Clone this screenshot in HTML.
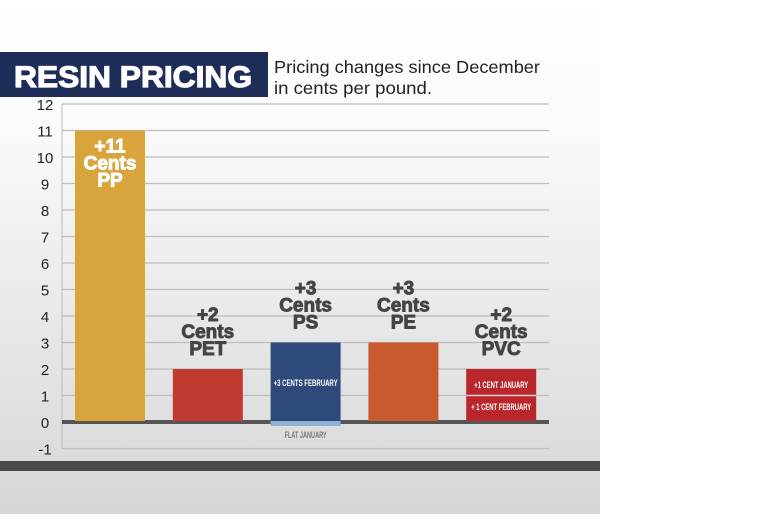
<!DOCTYPE html>
<html><head><meta charset="utf-8"><style>
body{margin:0;width:766px;height:514px;overflow:hidden;background:#fff;font-family:"Liberation Sans",sans-serif}
</style></head><body>
<svg width="766" height="514">
<defs><linearGradient id="bg" x1="0" y1="0" x2="0" y2="1"><stop offset="0" stop-color="#fff"/><stop offset="0.25" stop-color="#fafafa"/><stop offset="1" stop-color="#d6d6d6"/></linearGradient></defs>
<rect x="0" y="0" width="600" height="514" fill="url(#bg)"/>
<rect x="0" y="52" width="268" height="45" fill="#1e2d58"/>
<text x="14" y="87" font-size="30" font-weight="bold" fill="#fff" stroke="#fff" stroke-width="1.2" textLength="238" lengthAdjust="spacingAndGlyphs">RESIN PRICING</text>
<text x="274" y="73" font-size="17.5" fill="#222" textLength="266" lengthAdjust="spacingAndGlyphs">Pricing changes since December</text>
<text x="274" y="94" font-size="17.5" fill="#222" textLength="158" lengthAdjust="spacingAndGlyphs">in cents per pound.</text>
<g id="grid"></g>
<g id="bars"></g>
<rect x="0" y="461" width="600" height="10" fill="#4a4a4a"/>
</svg>
<script>
const ticks=[-1,0,1,2,3,4,5,6,7,8,9,10,11,12];
const categories=["PP","PET","PS","PE","PVC"];
const values=[11,2,3,3,2];
const labels=["+11","+2","+3","+3","+2"];
const colors=["#d9a43c","#c0392f","#2d4a7a","#c95a30","#b9262b"];
const NS="http://www.w3.org/2000/svg";
function y(v){return 422-26.5*v;}
function x(i){return 75+i*97.8;}
const BW=70;
function el(t,a,p,txt){const e=document.createElementNS(NS,t);for(const k in a)e.setAttribute(k,a[k]);if(txt!=null)e.textContent=txt;p.appendChild(e);return e;}
const g=document.getElementById('grid'),b=document.getElementById('bars');
el('line',{x1:62,y1:y(12),x2:62,y2:y(-1),stroke:'#bbb'},g);
ticks.forEach(t=>{
 const l=el('line',{x1:62,x2:549,y1:y(t),y2:y(t),stroke:'#bdbdbd','stroke-width':1.2},g);
 
 
 const tx=el('text',{x:45,y:y(t)+6,'font-size':15,fill:'#222','text-anchor':'middle'},g,String(t));
 
 
});
const z=el('rect',{x:62,y:y(0)-2,width:487,height:4,fill:'#555'},g);


categories.forEach((c,i)=>{
 const r=el('rect',{x:x(i),y:y(values[i]),width:BW,height:y(0)-y(values[i])-1,fill:colors[i]},b);
 
 
 const cx=x(i)+BW/2;
 const inside=i===0;
 const top=inside?y(values[i])+22:y(values[i])-48;
 const col=inside?'#fff':'#444';
 [labels[i],"Cents",c].forEach((s,k)=>{
  const t=el('text',{x:cx,y:top+k*17,'font-size':19,'font-weight':'bold',fill:col,stroke:col,'stroke-width':0.9,'text-anchor':'middle'},b,s);
  
  
 });
});
let s=el('rect',{x:x(2),y:y(0)-1,width:BW,height:5,fill:'#8fb0d8'},b);


let t=el('text',{x:x(2)+BW/2,y:386,'font-size':9,'font-weight':'bold',fill:'#fff','text-anchor':'middle',textLength:64,lengthAdjust:'spacingAndGlyphs'},b,'+3 CENTS FEBRUARY');


t=el('text',{x:x(2)+BW/2,y:438,'font-size':9,'font-weight':'bold',fill:'#777','text-anchor':'middle',textLength:42,lengthAdjust:'spacingAndGlyphs'},b,'FLAT JANUARY');


let d=el('line',{x1:x(4),x2:x(4)+BW,y1:y(1),y2:y(1),stroke:'#f0d0d0','stroke-width':1.5},b);


t=el('text',{x:x(4)+BW/2,y:388,'font-size':9,'font-weight':'bold',fill:'#fff','text-anchor':'middle',textLength:54,lengthAdjust:'spacingAndGlyphs'},b,'+1 CENT JANUARY');


t=el('text',{x:x(4)+BW/2,y:410,'font-size':9,'font-weight':'bold',fill:'#fff','text-anchor':'middle',textLength:60,lengthAdjust:'spacingAndGlyphs'},b,'+ 1 CENT FEBRUARY');


</script>
</body></html>
